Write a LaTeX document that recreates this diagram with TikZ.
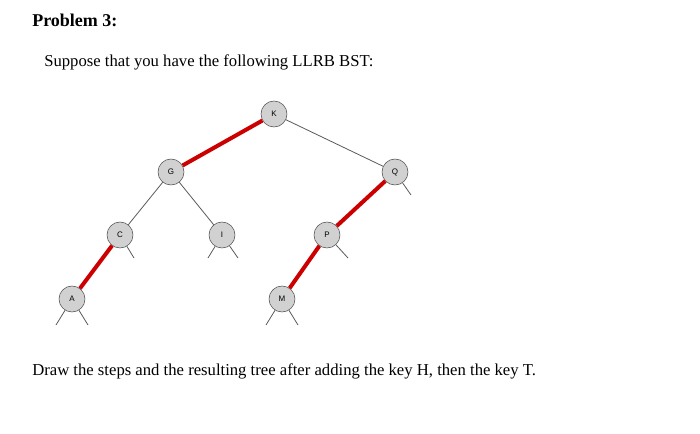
\documentclass[tikz,border=0pt]{standalone}
\usepackage{fontspec}
\setmainfont{Liberation Serif}
\newfontfamily\nodefont{Liberation Sans}
\begin{document}
\begin{tikzpicture}[x=0.75pt,y=-0.75pt,
  nd/.style={circle,draw=black!70,fill=black!18,minimum size=19.5pt,inner sep=0pt,font=\nodefont\fontsize{6}{6}\selectfont},
  blk/.style={draw=black!65,line width=0.6pt},
  red/.style={draw=red!80!black,line width=3pt},
  txt/.style={anchor=west,inner sep=0pt,font=\fontsize{12.5}{14}\selectfont}]
\useasboundingbox (0,0) rectangle (700,433);
\node[txt,font=\bfseries\fontsize{13.5}{15}\selectfont] (t1) at (32,20) {Problem 3:};
\node[txt] (t2) at (44,62) {Suppose that you have the following LLRB BST:};
\node[txt] (t3) at (32,371) {Draw the steps and the resulting tree after adding the key H, then the key T.};
\node[nd] (K) at (274,114) {K};
\node[nd] (G) at (171,172) {G};
\node[nd] (Q) at (395,172) {Q};
\node[nd] (C) at (120,235) {C};
\node[nd] (I) at (222,235) {I};
\node[nd] (P) at (327,235) {P};
\node[nd] (A) at (72,299) {A};
\node[nd] (M) at (282,299) {M};
\coordinate (qr) at (411,195);
\coordinate (cr) at (134,258);
\coordinate (il) at (208,258);
\coordinate (ir) at (238,258);
\coordinate (pr) at (348,258);
\coordinate (al) at (56,325);
\coordinate (ar) at (88,325);
\coordinate (ml) at (266,325);
\coordinate (mr) at (298,325);
\begin{scope}[on background layer/.style={}]
\draw[red] (K) -- (G);
\draw[blk] (K) -- (Q);
\draw[blk] (G) -- (C);
\draw[blk] (G) -- (I);
\draw[red] (Q) -- (P);
\draw[red] (C) -- (A);
\draw[red] (P) -- (M);
\draw[blk] (Q) -- (qr);
\draw[blk] (C) -- (cr);
\draw[blk] (I) -- (il);
\draw[blk] (I) -- (ir);
\draw[blk] (P) -- (pr);
\draw[blk] (A) -- (al);
\draw[blk] (A) -- (ar);
\draw[blk] (M) -- (ml);
\draw[blk] (M) -- (mr);
\end{scope}
\end{tikzpicture}
\end{document}
